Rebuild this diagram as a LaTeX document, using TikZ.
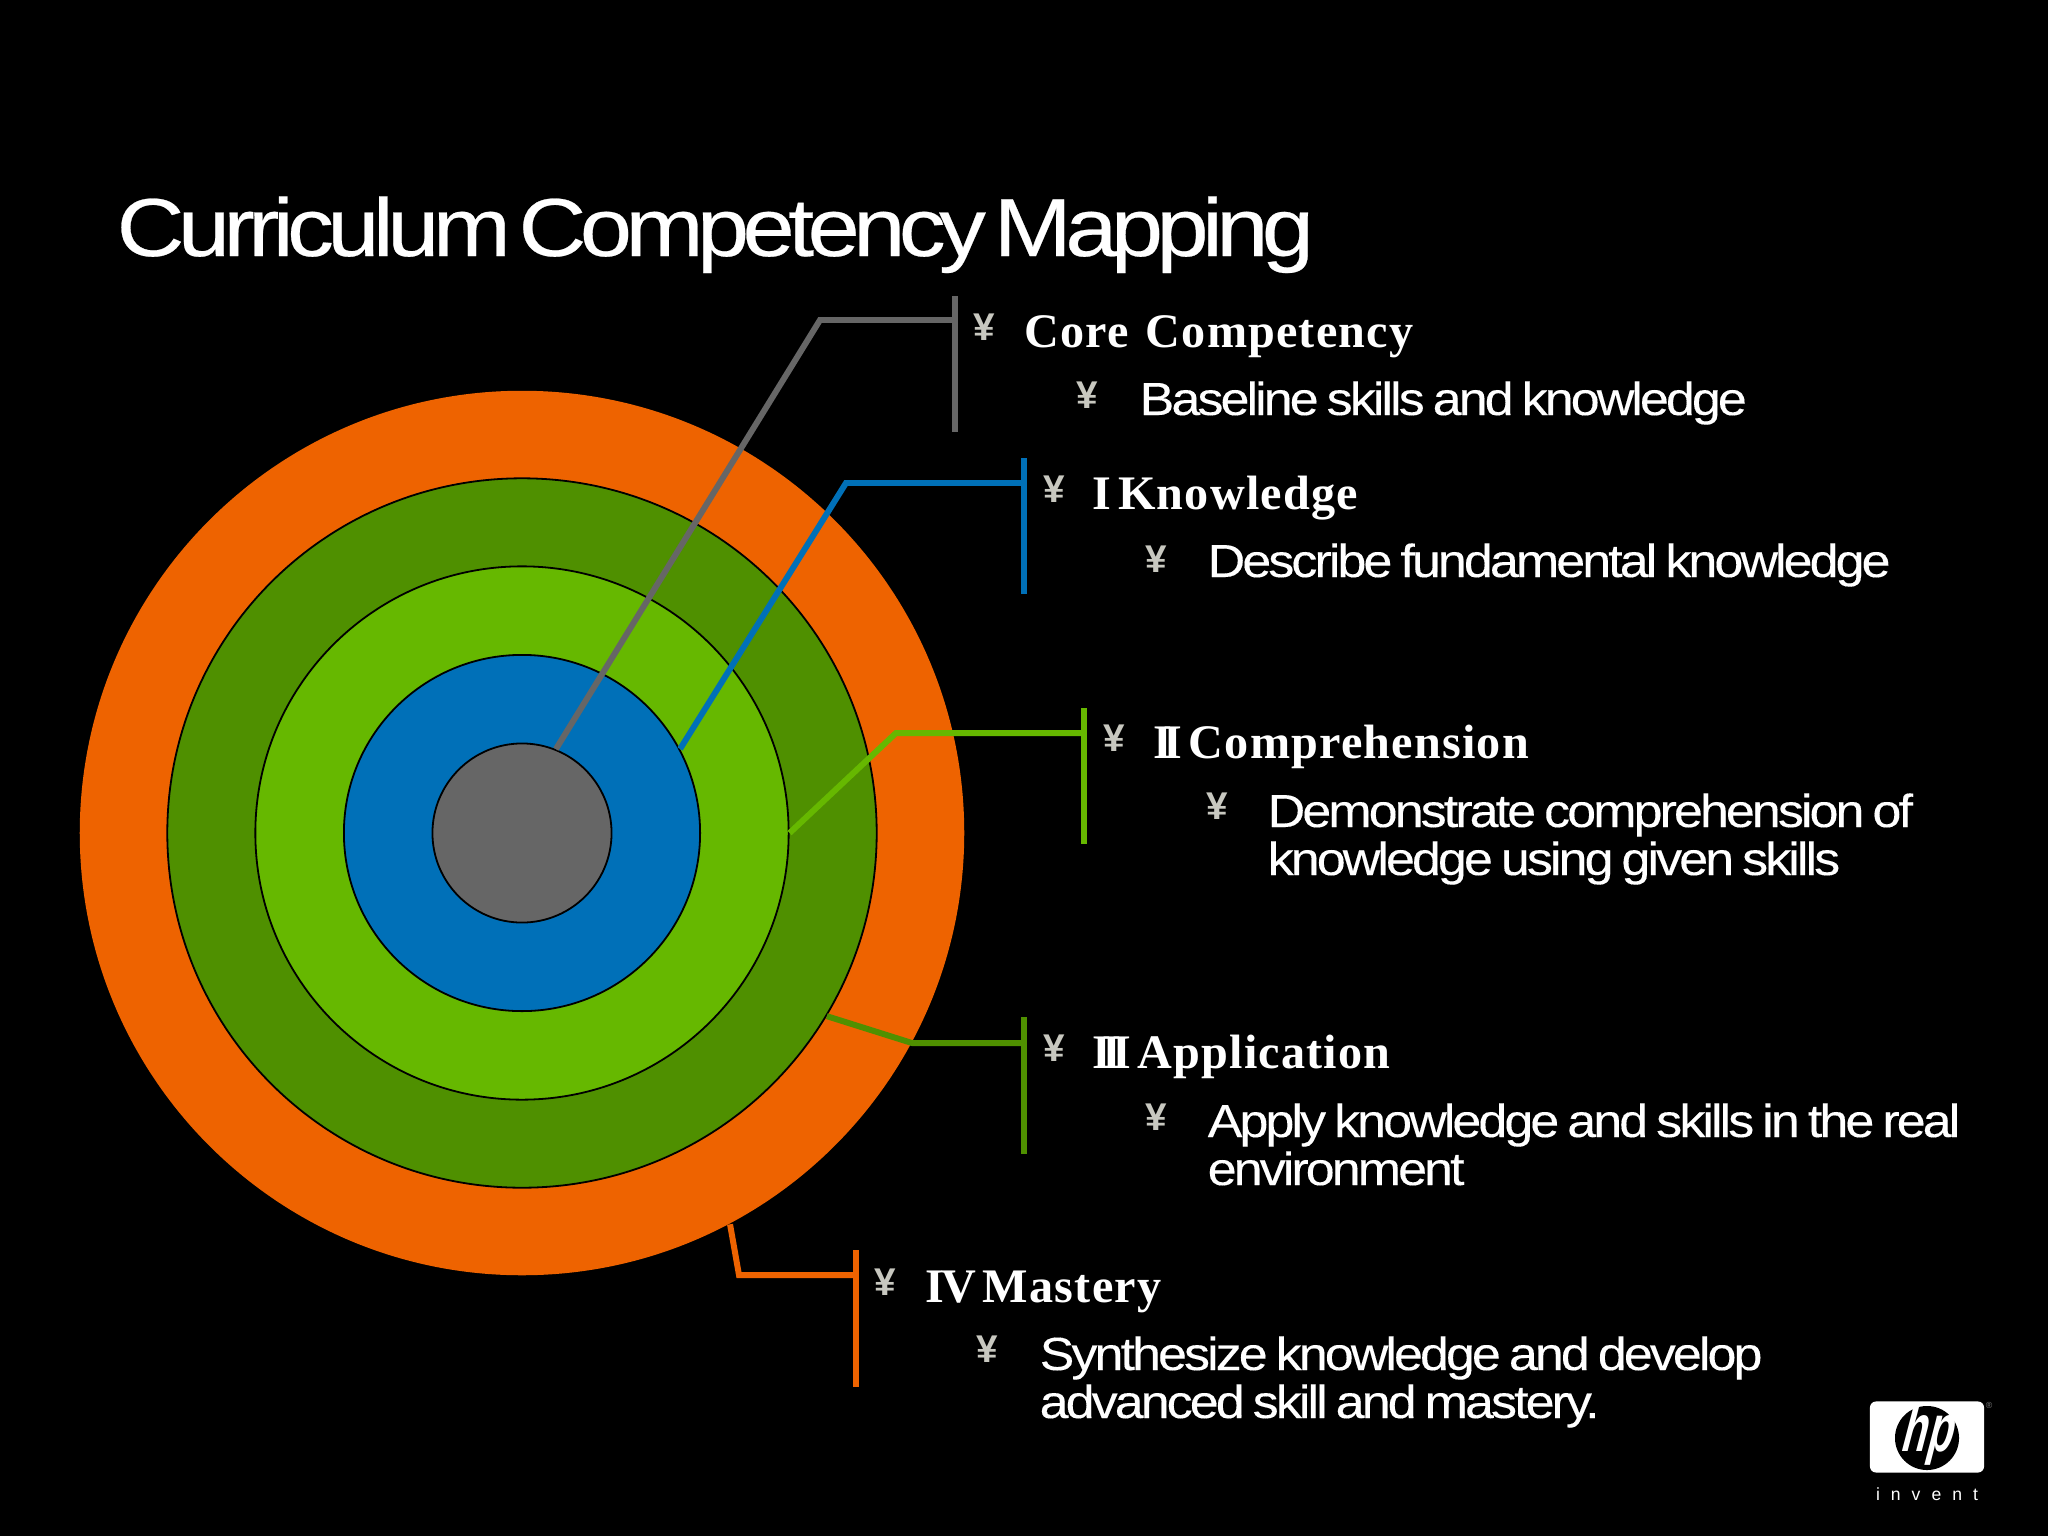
\documentclass[tikz,border=0pt]{standalone}
\usepackage{fontspec}
\setmainfont{Liberation Serif}
\newfontfamily\titlefont[LetterSpace=-8,FakeStretch=1.14,WordSpace=0.4,FakeBold=0.3]{Liberation Sans}
\newfontfamily\bodyfont[LetterSpace=-6.3,FakeStretch=1.12,WordSpace=0.7,FakeBold=0.2]{Liberation Sans}
\newfontfamily\headfont[LetterSpace=2.5,WordSpace=0.5]{Liberation Serif}
\newfontfamily\logofont{Liberation Sans}
\definecolor{coregray}{HTML}{666666}
\definecolor{knowblue}{HTML}{0070B8}
\definecolor{compgreen}{HTML}{66B800}
\definecolor{applgreen}{HTML}{4F9000}
\definecolor{mastorange}{HTML}{EE6300}
\definecolor{bulletgray}{HTML}{C8C8C0}
\tikzset{
  ring/.style={circle,draw=black,line width=0.18mm,inner sep=0pt},
  link/.style={line width=1.7pt},
  title/.style={anchor=base west,inner sep=0pt,text=white,font=\titlefont\fontsize{23.4}{28}\selectfont},
  head/.style={anchor=base west,inner sep=0pt,text=white,font=\headfont\bfseries\fontsize{13.7}{16}\selectfont},
  body/.style={anchor=base west,inner sep=0pt,text=white,font=\bodyfont\fontsize{13.2}{16}\selectfont},
  bullet/.style={anchor=base west,inner sep=0pt,text=bulletgray,font=\logofont\bfseries\fontsize{11}{12}\selectfont},
}
\begin{document}
\begin{tikzpicture}[x=0.01cm,y=-0.01cm]
\useasboundingbox (0,0) rectangle (2048,1536);
\fill[black] (0,0) rectangle (2048,1536);
% rings
\node[ring,draw=none,fill=mastorange,minimum size=8.84cm] (mastery) at (522,833) {};
\node[ring,fill=applgreen,minimum size=7.09cm] (application) at (522,833) {};
\node[ring,fill=compgreen,minimum size=5.33cm] (comprehension) at (522,833) {};
\node[ring,fill=knowblue,minimum size=3.56cm] (knowledge) at (522,833) {};
\node[ring,fill=coregray,minimum size=1.79cm] (core) at (522,833) {};
% corners of the connectors
\coordinate (corebend) at (820,320);
\coordinate (corejoin) at (955,320);
\coordinate (coretop) at (955,296);
\coordinate (corebot) at (955,432);
\coordinate (knowbend) at (846,483);
\coordinate (knowjoin) at (1024,483);
\coordinate (knowtop) at (1024,458);
\coordinate (knowbot) at (1024,594);
\coordinate (compbend) at (896,733);
\coordinate (compjoin) at (1084,733);
\coordinate (comptop) at (1084,708);
\coordinate (compbot) at (1084,844);
\coordinate (applbend) at (912,1043);
\coordinate (appljoin) at (1024,1043);
\coordinate (appltop) at (1024,1017);
\coordinate (applbot) at (1024,1154);
\coordinate (mastbend) at (739,1275);
\coordinate (mastjoin) at (856,1275);
\coordinate (masttop) at (856,1250);
\coordinate (mastbot) at (856,1387);
% connectors
\draw[link,coregray] (core.68) -- (corebend) -- (corejoin);
\draw[link,coregray] (coretop) -- (corebot);
\draw[link,knowblue] (knowledge.28) -- (knowbend) -- (knowjoin);
\draw[link,knowblue] (knowtop) -- (knowbot);
\draw[link,compgreen] (comprehension.east) -- (compbend) -- (compjoin);
\draw[link,compgreen] (comptop) -- (compbot);
\draw[link,applgreen] (application.-31) -- (applbend) -- (appljoin);
\draw[link,applgreen] (appltop) -- (applbot);
\draw[link,mastorange] (mastery.-62) -- (mastbend) -- (mastjoin);
\draw[link,mastorange] (masttop) -- (mastbot);
% texts
\node[title] (maintitle) at (116,256) {Curriculum Competency Mapping};
\node[bullet] (corebul) at (973,340) {¥};
\node[head] (corehead) at (1024,347) {Core\hspace{1mm} Competency};
\node[bullet] (corebulb) at (1076,408) {¥};
\node[body] (corebody) at (1139,415) {Baseline skills and knowledge};
\node[bullet] (knowbul) at (1043,502) {¥};
\node[head] (knowhead) at (1092,509) {I Knowledge};
\node[bullet] (knowbulb) at (1145,572) {¥};
\node[body] (knowbody) at (1207,577) {Describe fundamental knowledge};
\node[bullet] (compbul) at (1103,751) {¥};
\node[head] (comphead) at (1153,758) {I\kern-0.9mm I Comprehension};
\node[bullet] (compbulb) at (1206,819) {¥};
\node[body] (compbody) at (1267,827) {Demonstrate comprehension of};
\node[body] (compbodyb) at (1267,875) {knowledge using given skills};
\node[bullet] (applbul) at (1043,1061) {¥};
\node[head] (applhead) at (1092,1068) {I\kern-0.9mm I\kern-0.9mm I Application};
\node[bullet] (applbulb) at (1145,1130) {¥};
\node[body] (applbody) at (1207,1137) {Apply knowledge and skills in the real};
\node[body] (applbodyb) at (1207,1185) {environment};
\node[bullet] (mastbul) at (874,1295) {¥};
\node[head] (masthead) at (925,1302) {I\kern-0.3mm V Mastery};
\node[bullet] (mastbulb) at (976,1362) {¥};
\node[body] (mastbody) at (1039,1370) {Synthesize knowledge and develop};
\node[body] (mastbodyb) at (1039,1418) {advanced skill and mastery.};
% logo
\node[fill=white,rounded corners=0.06cm,minimum width=1.14cm,minimum height=0.71cm,inner sep=0pt] (logobox) at (1927,1437) {};
\node[circle,fill=black,minimum size=0.64cm,inner sep=0pt] (logodisc) at (1927,1438) {};
\node[anchor=base,inner sep=0pt,text=white,xscale=0.62,xslant=0.42,font=\logofont\bfseries\fontsize{19}{24}\selectfont] (logohp) at (1925,1451) {hp};
\node[inner sep=0pt,text=white,font=\logofont\fontsize{5}{6}\selectfont] (logotext) at (1927,1494) {i\hspace{1.1mm}n\hspace{1.1mm}v\hspace{1.1mm}e\hspace{1.1mm}n\hspace{1.1mm}t};
\node[inner sep=0pt,text=gray,font=\logofont\fontsize{2.5}{3}\selectfont] (logomark) at (1989,1405) {®};
\end{tikzpicture}
\end{document}
